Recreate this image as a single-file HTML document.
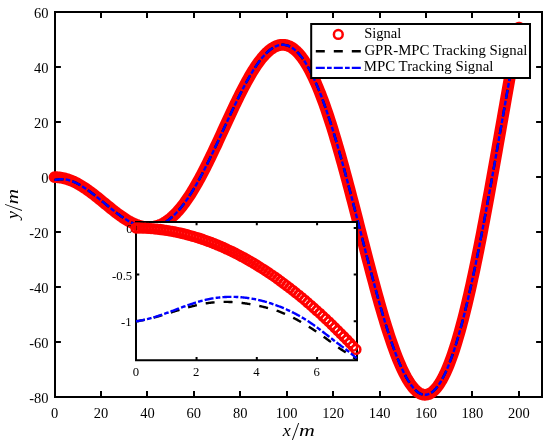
<!DOCTYPE html>
<html><head><meta charset="utf-8"><style>html,body{margin:0;padding:0;background:#fff;overflow:hidden}svg{display:block}</style></head>
<body><svg width="550" height="447" viewBox="0 0 550 447"><rect width="550" height="447" fill="#fff"/>
<path d="M55.00,12.00H542.00V397.00H55.00Z M101.00,397.00V391.10M101.00,12.00V17.90M147.00,397.00V391.10M147.00,12.00V17.90M194.00,397.00V391.10M194.00,12.00V17.90M240.00,397.00V391.10M240.00,12.00V17.90M287.00,397.00V391.10M287.00,12.00V17.90M333.00,397.00V391.10M333.00,12.00V17.90M380.00,397.00V391.10M380.00,12.00V17.90M426.00,397.00V391.10M426.00,12.00V17.90M472.00,397.00V391.10M472.00,12.00V17.90M519.00,397.00V391.10M519.00,12.00V17.90M55.00,342.00H60.90M542.00,342.00H536.10M55.00,287.00H60.90M542.00,287.00H536.10M55.00,232.00H60.90M542.00,232.00H536.10M55.00,177.00H60.90M542.00,177.00H536.10M55.00,122.00H60.90M542.00,122.00H536.10M55.00,67.00H60.90M542.00,67.00H536.10" fill="none" stroke="#000" stroke-width="2.0"/>
<g font-family="Liberation Serif, serif" font-size="15.5" fill="#000"><text transform="translate(54.50,417.75) scale(0.935,1)" text-anchor="middle">0</text><text transform="translate(100.94,417.75) scale(0.935,1)" text-anchor="middle">20</text><text transform="translate(147.38,417.75) scale(0.935,1)" text-anchor="middle">40</text><text transform="translate(193.82,417.75) scale(0.935,1)" text-anchor="middle">60</text><text transform="translate(240.26,417.75) scale(0.935,1)" text-anchor="middle">80</text><text transform="translate(286.70,417.75) scale(0.935,1)" text-anchor="middle">100</text><text transform="translate(333.14,417.75) scale(0.935,1)" text-anchor="middle">120</text><text transform="translate(379.58,417.75) scale(0.935,1)" text-anchor="middle">140</text><text transform="translate(426.02,417.75) scale(0.935,1)" text-anchor="middle">160</text><text transform="translate(472.46,417.75) scale(0.935,1)" text-anchor="middle">180</text><text transform="translate(518.90,417.75) scale(0.935,1)" text-anchor="middle">200</text><text transform="translate(48.6,403.06) scale(0.935,1)" text-anchor="end">-80</text><text transform="translate(48.6,348.08) scale(0.935,1)" text-anchor="end">-60</text><text transform="translate(48.6,293.10) scale(0.935,1)" text-anchor="end">-40</text><text transform="translate(48.6,238.12) scale(0.935,1)" text-anchor="end">-20</text><text transform="translate(48.6,183.14) scale(0.935,1)" text-anchor="end">0</text><text transform="translate(48.6,128.16) scale(0.935,1)" text-anchor="end">20</text><text transform="translate(48.6,73.18) scale(0.935,1)" text-anchor="end">40</text><text transform="translate(48.6,18.20) scale(0.935,1)" text-anchor="end">60</text></g>
<g font-family="Liberation Serif, serif" font-style="italic" font-size="18"><text transform="translate(282.8,435.6) scale(1,0.88)">x</text><text transform="translate(292.8,439.5) scale(1,1.4)">/</text><text transform="translate(299,435.6) scale(1.22,0.88)">m</text></g>
<g font-family="Liberation Serif, serif" font-style="italic" font-size="18" transform="translate(17.9,219.9) rotate(-90)"><text transform="translate(1,0) scale(1,0.88)">y</text><text transform="translate(9.6,3.8) scale(1,1.4)">/</text><text transform="translate(15.6,0) scale(1.18,0.88)">m</text></g>
<path d="M54.50,177.14 L55.66,177.16 L56.82,177.21 L57.98,177.29 L59.14,177.41 L60.30,177.57 L61.47,177.76 L62.63,177.98 L63.79,178.23 L64.95,178.52 L66.11,178.84 L67.27,179.19 L68.43,179.58 L69.59,179.99 L70.75,180.44 L71.91,180.92 L73.08,181.42 L74.24,181.96 L75.40,182.52 L76.56,183.11 L77.72,183.73 L78.88,184.37 L80.04,185.04 L81.20,185.74 L82.36,186.45 L83.53,187.19 L84.69,187.95 L85.85,188.74 L87.01,189.54 L88.17,190.36 L89.33,191.19 L90.49,192.05 L91.65,192.92 L92.81,193.80 L93.97,194.69 L95.13,195.60 L96.30,196.52 L97.46,197.45 L98.62,198.38 L99.78,199.32 L100.94,200.27 L102.10,201.22 L103.26,202.18 L104.42,203.13 L105.58,204.09 L106.75,205.04 L107.91,206.00 L109.07,206.94 L110.23,207.89 L111.39,208.82 L112.55,209.75 L113.71,210.67 L114.87,211.57 L116.03,212.47 L117.19,213.35 L118.36,214.22 L119.52,215.07 L120.68,215.90 L121.84,216.71 L123.00,217.50 L124.16,218.27 L125.32,219.02 L126.48,219.74 L127.64,220.44 L128.80,221.11 L129.97,221.75 L131.13,222.36 L132.29,222.94 L133.45,223.48 L134.61,224.00 L135.77,224.48 L136.93,224.92 L138.09,225.33 L139.25,225.70 L140.41,226.03 L141.57,226.32 L142.74,226.57 L143.90,226.77 L145.06,226.94 L146.22,227.06 L147.38,227.13 L148.54,227.16 L149.70,227.15 L150.86,227.08 L152.02,226.97 L153.19,226.81 L154.35,226.60 L155.51,226.35 L156.67,226.04 L157.83,225.68 L158.99,225.27 L160.15,224.80 L161.31,224.29 L162.47,223.72 L163.63,223.10 L164.80,222.43 L165.96,221.70 L167.12,220.93 L168.28,220.09 L169.44,219.21 L170.60,218.27 L171.76,217.28 L172.92,216.23 L174.08,215.14 L175.24,213.98 L176.41,212.78 L177.57,211.53 L178.73,210.22 L179.89,208.86 L181.05,207.45 L182.21,205.99 L183.37,204.48 L184.53,202.92 L185.69,201.32 L186.85,199.66 L188.02,197.96 L189.18,196.21 L190.34,194.42 L191.50,192.58 L192.66,190.70 L193.82,188.78 L194.98,186.81 L196.14,184.81 L197.30,182.77 L198.46,180.68 L199.62,178.57 L200.79,176.41 L201.95,174.22 L203.11,172.00 L204.27,169.75 L205.43,167.47 L206.59,165.16 L207.75,162.83 L208.91,160.47 L210.07,158.09 L211.24,155.68 L212.40,153.26 L213.56,150.81 L214.72,148.35 L215.88,145.88 L217.04,143.39 L218.20,140.89 L219.36,138.38 L220.52,135.87 L221.68,133.35 L222.84,130.82 L224.01,128.30 L225.17,125.77 L226.33,123.25 L227.49,120.73 L228.65,118.22 L229.81,115.72 L230.97,113.22 L232.13,110.74 L233.29,108.28 L234.46,105.83 L235.62,103.40 L236.78,101.00 L237.94,98.61 L239.10,96.25 L240.26,93.92 L241.42,91.62 L242.58,89.35 L243.74,87.11 L244.90,84.91 L246.06,82.75 L247.23,80.63 L248.39,78.55 L249.55,76.51 L250.71,74.52 L251.87,72.58 L253.03,70.68 L254.19,68.84 L255.35,67.06 L256.51,65.33 L257.68,63.65 L258.84,62.04 L260.00,60.49 L261.16,59.00 L262.32,57.57 L263.48,56.21 L264.64,54.93 L265.80,53.71 L266.96,52.56 L268.12,51.48 L269.28,50.48 L270.45,49.56 L271.61,48.71 L272.77,47.95 L273.93,47.26 L275.09,46.65 L276.25,46.13 L277.41,45.69 L278.57,45.34 L279.73,45.07 L280.89,44.89 L282.06,44.80 L283.22,44.80 L284.38,44.89 L285.54,45.07 L286.70,45.34 L287.86,45.70 L289.02,46.15 L290.18,46.70 L291.34,47.34 L292.50,48.08 L293.67,48.91 L294.83,49.83 L295.99,50.85 L297.15,51.97 L298.31,53.18 L299.47,54.48 L300.63,55.88 L301.79,57.38 L302.95,58.97 L304.12,60.65 L305.28,62.43 L306.44,64.30 L307.60,66.26 L308.76,68.32 L309.92,70.47 L311.08,72.71 L312.24,75.03 L313.40,77.45 L314.56,79.96 L315.73,82.55 L316.89,85.24 L318.05,88.00 L319.21,90.85 L320.37,93.78 L321.53,96.80 L322.69,99.89 L323.85,103.06 L325.01,106.31 L326.17,109.64 L327.33,113.03 L328.50,116.50 L329.66,120.04 L330.82,123.65 L331.98,127.32 L333.14,131.05 L334.30,134.85 L335.46,138.71 L336.62,142.62 L337.78,146.59 L338.94,150.62 L340.11,154.69 L341.27,158.81 L342.43,162.98 L343.59,167.19 L344.75,171.44 L345.91,175.73 L347.07,180.05 L348.23,184.41 L349.39,188.79 L350.56,193.21 L351.72,197.65 L352.88,202.10 L354.04,206.58 L355.20,211.07 L356.36,215.58 L357.52,220.09 L358.68,224.61 L359.84,229.14 L361.00,233.66 L362.17,238.19 L363.33,242.70 L364.49,247.21 L365.65,251.71 L366.81,256.19 L367.97,260.65 L369.13,265.09 L370.29,269.51 L371.45,273.89 L372.61,278.25 L373.78,282.57 L374.94,286.86 L376.10,291.10 L377.26,295.31 L378.42,299.46 L379.58,303.56 L380.74,307.62 L381.90,311.61 L383.06,315.55 L384.22,319.42 L385.38,323.23 L386.55,326.97 L387.71,330.64 L388.87,334.23 L390.03,337.75 L391.19,341.18 L392.35,344.54 L393.51,347.80 L394.67,350.98 L395.83,354.07 L397.00,357.06 L398.16,359.96 L399.32,362.76 L400.48,365.45 L401.64,368.05 L402.80,370.53 L403.96,372.91 L405.12,375.17 L406.28,377.33 L407.44,379.36 L408.61,381.28 L409.77,383.08 L410.93,384.76 L412.09,386.31 L413.25,387.74 L414.41,389.04 L415.57,390.21 L416.73,391.25 L417.89,392.16 L419.05,392.93 L420.22,393.58 L421.38,394.08 L422.54,394.45 L423.70,394.68 L424.86,394.77 L426.02,394.72 L427.18,394.53 L428.34,394.20 L429.50,393.72 L430.66,393.10 L431.82,392.34 L432.99,391.44 L434.15,390.39 L435.31,389.20 L436.47,387.86 L437.63,386.38 L438.79,384.75 L439.95,382.99 L441.11,381.07 L442.27,379.02 L443.44,376.82 L444.60,374.48 L445.76,372.00 L446.92,369.38 L448.08,366.62 L449.24,363.72 L450.40,360.68 L451.56,357.51 L452.72,354.20 L453.88,350.76 L455.05,347.19 L456.21,343.49 L457.37,339.66 L458.53,335.70 L459.69,331.62 L460.85,327.41 L462.01,323.08 L463.17,318.64 L464.33,314.08 L465.49,309.40 L466.66,304.62 L467.82,299.72 L468.98,294.72 L470.14,289.61 L471.30,284.41 L472.46,279.10 L473.62,273.70 L474.78,268.21 L475.94,262.63 L477.10,256.97 L478.26,251.22 L479.43,245.39 L480.59,239.49 L481.75,233.51 L482.91,227.47 L484.07,221.36 L485.23,215.19 L486.39,208.96 L487.55,202.68 L488.71,196.34 L489.88,189.96 L491.04,183.54 L492.20,177.08 L493.36,170.59 L494.52,164.06 L495.68,157.51 L496.84,150.94 L498.00,144.35 L499.16,137.75 L500.32,131.13 L501.49,124.52 L502.65,117.90 L503.81,111.28 L504.97,104.67 L506.13,98.08 L507.29,91.50 L508.45,84.94 L509.61,78.41 L510.77,71.91 L511.93,65.44 L513.10,59.01 L514.26,52.62 L515.42,46.28 L516.58,39.99 L517.74,33.76 L518.90,27.59" fill="none" stroke="#f00" stroke-width="11.8" stroke-linecap="round" stroke-linejoin="round"/>
<path d="M54.50,179.89 L54.73,179.88 L54.96,179.86 L55.20,179.85 L55.43,179.83 L55.66,179.80 L55.89,179.78 L56.13,179.76 L56.36,179.73 L56.59,179.70 L56.82,179.68 L57.05,179.65 L57.29,179.62 L57.52,179.59 L57.75,179.57 L57.98,179.54 L58.22,179.51 L58.45,179.49 L58.68,179.46 L58.91,179.44 L59.14,179.42 L59.38,179.40 L59.61,179.38 L59.84,179.37 L60.07,179.35 L60.30,179.34 L60.54,179.33 L60.77,179.33 L61.00,179.32 L61.23,179.32 L61.47,179.32 L61.70,179.32 L61.93,179.33 L62.16,179.33 L62.39,179.34 L62.63,179.35 L62.86,179.36 L63.09,179.37 L63.32,179.39 L63.56,179.40 L63.79,179.42 L64.02,179.44 L64.25,179.46 L64.48,179.48 L64.72,179.51 L64.95,179.53 L65.18,179.56 L65.41,179.59 L65.65,179.62 L65.88,179.66 L66.11,179.69 L66.34,179.73 L66.57,179.78 L66.81,179.82 L67.04,179.87 L67.27,179.92 L67.50,179.98 L67.74,180.03 L67.97,180.09 L68.20,180.15 L68.43,180.21 L68.66,180.27 L68.90,180.33 L69.13,180.39 L69.36,180.46 L69.59,180.52 L69.83,180.59 L70.06,180.65 L70.29,180.72 L70.52,180.77 L70.75,180.83 L70.99,180.89 L71.22,180.95 L71.45,181.01 L71.68,181.08 L71.91,181.15 L72.15,181.23 L72.38,181.31 L72.61,181.39 L72.84,181.48 L73.08,181.57 L73.31,181.66 L73.54,181.75 L73.77,181.85 L74.00,181.95 L74.24,182.05 L74.47,182.15 L74.70,182.25 L74.93,182.36 L75.17,182.46 L75.40,182.57 L75.63,182.68 L75.86,182.80 L76.09,182.91 L76.33,183.03 L76.56,183.14 L76.79,183.26 L77.02,183.38 L77.26,183.50 L77.49,183.63 L77.72,183.75 L78.88,184.39 L80.04,185.05 L81.20,185.74 L82.36,186.46 L83.53,187.19 L84.69,187.95 L85.85,188.74 L87.01,189.54 L88.17,190.36 L89.33,191.19 L90.49,192.05 L91.65,192.92 L92.81,193.80 L93.97,194.69 L95.13,195.60 L96.30,196.52 L97.46,197.45 L98.62,198.38 L99.78,199.32 L100.94,200.27 L102.10,201.22 L103.26,202.18 L104.42,203.13 L105.58,204.09 L106.75,205.04 L107.91,206.00 L109.07,206.94 L110.23,207.89 L111.39,208.82 L112.55,209.75 L113.71,210.67 L114.87,211.57 L116.03,212.47 L117.19,213.35 L118.36,214.22 L119.52,215.07 L120.68,215.90 L121.84,216.71 L123.00,217.50 L124.16,218.27 L125.32,219.02 L126.48,219.74 L127.64,220.44 L128.80,221.11 L129.97,221.75 L131.13,222.36 L132.29,222.94 L133.45,223.48 L134.61,224.00 L135.77,224.48 L136.93,224.92 L138.09,225.33 L139.25,225.70 L140.41,226.03 L141.57,226.32 L142.74,226.57 L143.90,226.77 L145.06,226.94 L146.22,227.06 L147.38,227.13 L148.54,227.16 L149.70,227.15 L150.86,227.08 L152.02,226.97 L153.19,226.81 L154.35,226.60 L155.51,226.35 L156.67,226.04 L157.83,225.68 L158.99,225.27 L160.15,224.80 L161.31,224.29 L162.47,223.72 L163.63,223.10 L164.80,222.43 L165.96,221.70 L167.12,220.93 L168.28,220.09 L169.44,219.21 L170.60,218.27 L171.76,217.28 L172.92,216.23 L174.08,215.14 L175.24,213.98 L176.41,212.78 L177.57,211.53 L178.73,210.22 L179.89,208.86 L181.05,207.45 L182.21,205.99 L183.37,204.48 L184.53,202.92 L185.69,201.32 L186.85,199.66 L188.02,197.96 L189.18,196.21 L190.34,194.42 L191.50,192.58 L192.66,190.70 L193.82,188.78 L194.98,186.81 L196.14,184.81 L197.30,182.77 L198.46,180.68 L199.62,178.57 L200.79,176.41 L201.95,174.22 L203.11,172.00 L204.27,169.75 L205.43,167.47 L206.59,165.16 L207.75,162.83 L208.91,160.47 L210.07,158.09 L211.24,155.68 L212.40,153.26 L213.56,150.81 L214.72,148.35 L215.88,145.88 L217.04,143.39 L218.20,140.89 L219.36,138.38 L220.52,135.87 L221.68,133.35 L222.84,130.82 L224.01,128.30 L225.17,125.77 L226.33,123.25 L227.49,120.73 L228.65,118.22 L229.81,115.72 L230.97,113.22 L232.13,110.74 L233.29,108.28 L234.46,105.83 L235.62,103.40 L236.78,101.00 L237.94,98.61 L239.10,96.25 L240.26,93.92 L241.42,91.62 L242.58,89.35 L243.74,87.11 L244.90,84.91 L246.06,82.75 L247.23,80.63 L248.39,78.55 L249.55,76.51 L250.71,74.52 L251.87,72.58 L253.03,70.68 L254.19,68.84 L255.35,67.06 L256.51,65.33 L257.68,63.65 L258.84,62.04 L260.00,60.49 L261.16,59.00 L262.32,57.57 L263.48,56.21 L264.64,54.93 L265.80,53.71 L266.96,52.56 L268.12,51.48 L269.28,50.48 L270.45,49.56 L271.61,48.71 L272.77,47.95 L273.93,47.26 L275.09,46.65 L276.25,46.13 L277.41,45.69 L278.57,45.34 L279.73,45.07 L280.89,44.89 L282.06,44.80 L283.22,44.80 L284.38,44.89 L285.54,45.07 L286.70,45.34 L287.86,45.70 L289.02,46.15 L290.18,46.70 L291.34,47.34 L292.50,48.08 L293.67,48.91 L294.83,49.83 L295.99,50.85 L297.15,51.97 L298.31,53.18 L299.47,54.48 L300.63,55.88 L301.79,57.38 L302.95,58.97 L304.12,60.65 L305.28,62.43 L306.44,64.30 L307.60,66.26 L308.76,68.32 L309.92,70.47 L311.08,72.71 L312.24,75.03 L313.40,77.45 L314.56,79.96 L315.73,82.55 L316.89,85.24 L318.05,88.00 L319.21,90.85 L320.37,93.78 L321.53,96.80 L322.69,99.89 L323.85,103.06 L325.01,106.31 L326.17,109.64 L327.33,113.03 L328.50,116.50 L329.66,120.04 L330.82,123.65 L331.98,127.32 L333.14,131.05 L334.30,134.85 L335.46,138.71 L336.62,142.62 L337.78,146.59 L338.94,150.62 L340.11,154.69 L341.27,158.81 L342.43,162.98 L343.59,167.19 L344.75,171.44 L345.91,175.73 L347.07,180.05 L348.23,184.41 L349.39,188.79 L350.56,193.21 L351.72,197.65 L352.88,202.10 L354.04,206.58 L355.20,211.07 L356.36,215.58 L357.52,220.09 L358.68,224.61 L359.84,229.14 L361.00,233.66 L362.17,238.19 L363.33,242.70 L364.49,247.21 L365.65,251.71 L366.81,256.19 L367.97,260.65 L369.13,265.09 L370.29,269.51 L371.45,273.89 L372.61,278.25 L373.78,282.57 L374.94,286.86 L376.10,291.10 L377.26,295.31 L378.42,299.46 L379.58,303.56 L380.74,307.62 L381.90,311.61 L383.06,315.55 L384.22,319.42 L385.38,323.23 L386.55,326.97 L387.71,330.64 L388.87,334.23 L390.03,337.75 L391.19,341.18 L392.35,344.54 L393.51,347.80 L394.67,350.98 L395.83,354.07 L397.00,357.06 L398.16,359.96 L399.32,362.76 L400.48,365.45 L401.64,368.05 L402.80,370.53 L403.96,372.91 L405.12,375.17 L406.28,377.33 L407.44,379.36 L408.61,381.28 L409.77,383.08 L410.93,384.76 L412.09,386.31 L413.25,387.74 L414.41,389.04 L415.57,390.21 L416.73,391.25 L417.89,392.16 L419.05,392.93 L420.22,393.58 L421.38,394.08 L422.54,394.45 L423.70,394.68 L424.86,394.77 L426.02,394.72 L427.18,394.53 L428.34,394.20 L429.50,393.72 L430.66,393.10 L431.82,392.34 L432.99,391.44 L434.15,390.39 L435.31,389.20 L436.47,387.86 L437.63,386.38 L438.79,384.75 L439.95,382.99 L441.11,381.07 L442.27,379.02 L443.44,376.82 L444.60,374.48 L445.76,372.00 L446.92,369.38 L448.08,366.62 L449.24,363.72 L450.40,360.68 L451.56,357.51 L452.72,354.20 L453.88,350.76 L455.05,347.19 L456.21,343.49 L457.37,339.66 L458.53,335.70 L459.69,331.62 L460.85,327.41 L462.01,323.08 L463.17,318.64 L464.33,314.08 L465.49,309.40 L466.66,304.62 L467.82,299.72 L468.98,294.72 L470.14,289.61 L471.30,284.41 L472.46,279.10 L473.62,273.70 L474.78,268.21 L475.94,262.63 L477.10,256.97 L478.26,251.22 L479.43,245.39 L480.59,239.49 L481.75,233.51 L482.91,227.47 L484.07,221.36 L485.23,215.19 L486.39,208.96 L487.55,202.68 L488.71,196.34 L489.88,189.96 L491.04,183.54 L492.20,177.08 L493.36,170.59 L494.52,164.06 L495.68,157.51 L496.84,150.94 L498.00,144.35 L499.16,137.75 L500.32,131.13 L501.49,124.52 L502.65,117.90 L503.81,111.28 L504.97,104.67 L506.13,98.08 L507.29,91.50 L508.45,84.94 L509.61,78.41 L510.77,71.91 L511.93,65.44 L513.10,59.01 L514.26,52.62 L515.42,46.28 L516.58,39.99 L517.74,33.76 L518.90,27.59" fill="none" stroke="#000" stroke-width="2.4" stroke-dasharray="9 9"/>
<path d="M54.50,179.89 L54.73,179.88 L54.96,179.86 L55.20,179.84 L55.43,179.82 L55.66,179.80 L55.89,179.77 L56.13,179.74 L56.36,179.71 L56.59,179.68 L56.82,179.65 L57.05,179.62 L57.29,179.59 L57.52,179.55 L57.75,179.52 L57.98,179.49 L58.22,179.46 L58.45,179.42 L58.68,179.39 L58.91,179.36 L59.14,179.33 L59.38,179.31 L59.61,179.28 L59.84,179.26 L60.07,179.24 L60.30,179.22 L60.54,179.21 L60.77,179.20 L61.00,179.19 L61.23,179.18 L61.47,179.17 L61.70,179.17 L61.93,179.17 L62.16,179.17 L62.39,179.18 L62.63,179.18 L62.86,179.19 L63.09,179.20 L63.32,179.22 L63.56,179.23 L63.79,179.25 L64.02,179.27 L64.25,179.29 L64.48,179.32 L64.72,179.34 L64.95,179.37 L65.18,179.40 L65.41,179.43 L65.65,179.47 L65.88,179.51 L66.11,179.54 L66.34,179.59 L66.57,179.63 L66.81,179.67 L67.04,179.72 L67.27,179.77 L67.50,179.83 L67.74,179.88 L67.97,179.94 L68.20,180.00 L68.43,180.07 L68.66,180.13 L68.90,180.20 L69.13,180.27 L69.36,180.34 L69.59,180.41 L69.83,180.48 L70.06,180.54 L70.29,180.61 L70.52,180.68 L70.75,180.75 L70.99,180.81 L71.22,180.89 L71.45,180.97 L71.68,181.04 L71.91,181.12 L72.15,181.20 L72.38,181.28 L72.61,181.37 L72.84,181.45 L73.08,181.55 L73.31,181.64 L73.54,181.73 L73.77,181.83 L74.00,181.93 L74.24,182.03 L74.47,182.14 L74.70,182.24 L74.93,182.35 L75.17,182.46 L75.40,182.57 L75.63,182.68 L75.86,182.79 L76.09,182.91 L76.33,183.02 L76.56,183.14 L76.79,183.26 L77.02,183.38 L77.26,183.50 L77.49,183.62 L77.72,183.75 L78.88,184.38 L80.04,185.05 L81.20,185.74 L82.36,186.46 L83.53,187.19 L84.69,187.95 L85.85,188.74 L87.01,189.54 L88.17,190.36 L89.33,191.19 L90.49,192.05 L91.65,192.92 L92.81,193.80 L93.97,194.69 L95.13,195.60 L96.30,196.52 L97.46,197.45 L98.62,198.38 L99.78,199.32 L100.94,200.27 L102.10,201.22 L103.26,202.18 L104.42,203.13 L105.58,204.09 L106.75,205.04 L107.91,206.00 L109.07,206.94 L110.23,207.89 L111.39,208.82 L112.55,209.75 L113.71,210.67 L114.87,211.57 L116.03,212.47 L117.19,213.35 L118.36,214.22 L119.52,215.07 L120.68,215.90 L121.84,216.71 L123.00,217.50 L124.16,218.27 L125.32,219.02 L126.48,219.74 L127.64,220.44 L128.80,221.11 L129.97,221.75 L131.13,222.36 L132.29,222.94 L133.45,223.48 L134.61,224.00 L135.77,224.48 L136.93,224.92 L138.09,225.33 L139.25,225.70 L140.41,226.03 L141.57,226.32 L142.74,226.57 L143.90,226.77 L145.06,226.94 L146.22,227.06 L147.38,227.13 L148.54,227.16 L149.70,227.15 L150.86,227.08 L152.02,226.97 L153.19,226.81 L154.35,226.60 L155.51,226.35 L156.67,226.04 L157.83,225.68 L158.99,225.27 L160.15,224.80 L161.31,224.29 L162.47,223.72 L163.63,223.10 L164.80,222.43 L165.96,221.70 L167.12,220.93 L168.28,220.09 L169.44,219.21 L170.60,218.27 L171.76,217.28 L172.92,216.23 L174.08,215.14 L175.24,213.98 L176.41,212.78 L177.57,211.53 L178.73,210.22 L179.89,208.86 L181.05,207.45 L182.21,205.99 L183.37,204.48 L184.53,202.92 L185.69,201.32 L186.85,199.66 L188.02,197.96 L189.18,196.21 L190.34,194.42 L191.50,192.58 L192.66,190.70 L193.82,188.78 L194.98,186.81 L196.14,184.81 L197.30,182.77 L198.46,180.68 L199.62,178.57 L200.79,176.41 L201.95,174.22 L203.11,172.00 L204.27,169.75 L205.43,167.47 L206.59,165.16 L207.75,162.83 L208.91,160.47 L210.07,158.09 L211.24,155.68 L212.40,153.26 L213.56,150.81 L214.72,148.35 L215.88,145.88 L217.04,143.39 L218.20,140.89 L219.36,138.38 L220.52,135.87 L221.68,133.35 L222.84,130.82 L224.01,128.30 L225.17,125.77 L226.33,123.25 L227.49,120.73 L228.65,118.22 L229.81,115.72 L230.97,113.22 L232.13,110.74 L233.29,108.28 L234.46,105.83 L235.62,103.40 L236.78,101.00 L237.94,98.61 L239.10,96.25 L240.26,93.92 L241.42,91.62 L242.58,89.35 L243.74,87.11 L244.90,84.91 L246.06,82.75 L247.23,80.63 L248.39,78.55 L249.55,76.51 L250.71,74.52 L251.87,72.58 L253.03,70.68 L254.19,68.84 L255.35,67.06 L256.51,65.33 L257.68,63.65 L258.84,62.04 L260.00,60.49 L261.16,59.00 L262.32,57.57 L263.48,56.21 L264.64,54.93 L265.80,53.71 L266.96,52.56 L268.12,51.48 L269.28,50.48 L270.45,49.56 L271.61,48.71 L272.77,47.95 L273.93,47.26 L275.09,46.65 L276.25,46.13 L277.41,45.69 L278.57,45.34 L279.73,45.07 L280.89,44.89 L282.06,44.80 L283.22,44.80 L284.38,44.89 L285.54,45.07 L286.70,45.34 L287.86,45.70 L289.02,46.15 L290.18,46.70 L291.34,47.34 L292.50,48.08 L293.67,48.91 L294.83,49.83 L295.99,50.85 L297.15,51.97 L298.31,53.18 L299.47,54.48 L300.63,55.88 L301.79,57.38 L302.95,58.97 L304.12,60.65 L305.28,62.43 L306.44,64.30 L307.60,66.26 L308.76,68.32 L309.92,70.47 L311.08,72.71 L312.24,75.03 L313.40,77.45 L314.56,79.96 L315.73,82.55 L316.89,85.24 L318.05,88.00 L319.21,90.85 L320.37,93.78 L321.53,96.80 L322.69,99.89 L323.85,103.06 L325.01,106.31 L326.17,109.64 L327.33,113.03 L328.50,116.50 L329.66,120.04 L330.82,123.65 L331.98,127.32 L333.14,131.05 L334.30,134.85 L335.46,138.71 L336.62,142.62 L337.78,146.59 L338.94,150.62 L340.11,154.69 L341.27,158.81 L342.43,162.98 L343.59,167.19 L344.75,171.44 L345.91,175.73 L347.07,180.05 L348.23,184.41 L349.39,188.79 L350.56,193.21 L351.72,197.65 L352.88,202.10 L354.04,206.58 L355.20,211.07 L356.36,215.58 L357.52,220.09 L358.68,224.61 L359.84,229.14 L361.00,233.66 L362.17,238.19 L363.33,242.70 L364.49,247.21 L365.65,251.71 L366.81,256.19 L367.97,260.65 L369.13,265.09 L370.29,269.51 L371.45,273.89 L372.61,278.25 L373.78,282.57 L374.94,286.86 L376.10,291.10 L377.26,295.31 L378.42,299.46 L379.58,303.56 L380.74,307.62 L381.90,311.61 L383.06,315.55 L384.22,319.42 L385.38,323.23 L386.55,326.97 L387.71,330.64 L388.87,334.23 L390.03,337.75 L391.19,341.18 L392.35,344.54 L393.51,347.80 L394.67,350.98 L395.83,354.07 L397.00,357.06 L398.16,359.96 L399.32,362.76 L400.48,365.45 L401.64,368.05 L402.80,370.53 L403.96,372.91 L405.12,375.17 L406.28,377.33 L407.44,379.36 L408.61,381.28 L409.77,383.08 L410.93,384.76 L412.09,386.31 L413.25,387.74 L414.41,389.04 L415.57,390.21 L416.73,391.25 L417.89,392.16 L419.05,392.93 L420.22,393.58 L421.38,394.08 L422.54,394.45 L423.70,394.68 L424.86,394.77 L426.02,394.72 L427.18,394.53 L428.34,394.20 L429.50,393.72 L430.66,393.10 L431.82,392.34 L432.99,391.44 L434.15,390.39 L435.31,389.20 L436.47,387.86 L437.63,386.38 L438.79,384.75 L439.95,382.99 L441.11,381.07 L442.27,379.02 L443.44,376.82 L444.60,374.48 L445.76,372.00 L446.92,369.38 L448.08,366.62 L449.24,363.72 L450.40,360.68 L451.56,357.51 L452.72,354.20 L453.88,350.76 L455.05,347.19 L456.21,343.49 L457.37,339.66 L458.53,335.70 L459.69,331.62 L460.85,327.41 L462.01,323.08 L463.17,318.64 L464.33,314.08 L465.49,309.40 L466.66,304.62 L467.82,299.72 L468.98,294.72 L470.14,289.61 L471.30,284.41 L472.46,279.10 L473.62,273.70 L474.78,268.21 L475.94,262.63 L477.10,256.97 L478.26,251.22 L479.43,245.39 L480.59,239.49 L481.75,233.51 L482.91,227.47 L484.07,221.36 L485.23,215.19 L486.39,208.96 L487.55,202.68 L488.71,196.34 L489.88,189.96 L491.04,183.54 L492.20,177.08 L493.36,170.59 L494.52,164.06 L495.68,157.51 L496.84,150.94 L498.00,144.35 L499.16,137.75 L500.32,131.13 L501.49,124.52 L502.65,117.90 L503.81,111.28 L504.97,104.67 L506.13,98.08 L507.29,91.50 L508.45,84.94 L509.61,78.41 L510.77,71.91 L511.93,65.44 L513.10,59.01 L514.26,52.62 L515.42,46.28 L516.58,39.99 L517.74,33.76 L518.90,27.59" fill="none" stroke="#00f" stroke-width="2.4" stroke-dasharray="9 2.2 4.7 2.1"/>
<rect x="136.0" y="222.0" width="221.00" height="138.30" fill="#fff"/>
<path d="M136.00,222.00H357.00V360.30H136.00Z M196.56,360.30V357.00M196.56,222.00V225.30M256.82,360.30V357.00M256.82,222.00V225.30M317.08,360.30V357.00M317.08,222.00V225.30M136.00,321.20H139.30M357.00,321.20H353.70M136.00,274.60H139.30M357.00,274.60H353.70M136.00,228.00H139.30M357.00,228.00H353.70" fill="none" stroke="#000" stroke-width="2.0"/>
<g font-family="Liberation Serif, serif" font-size="13.4" fill="#000"><text transform="translate(136.00,376.1) scale(0.95,1)" text-anchor="middle">0</text><text transform="translate(196.26,376.1) scale(0.95,1)" text-anchor="middle">2</text><text transform="translate(256.52,376.1) scale(0.95,1)" text-anchor="middle">4</text><text transform="translate(316.78,376.1) scale(0.95,1)" text-anchor="middle">6</text><text transform="translate(132.60,233.00) scale(0.95,1)" text-anchor="end">0</text><text transform="translate(132.20,279.60) scale(0.95,1)" text-anchor="end">-0.5</text><text transform="translate(131.60,326.20) scale(0.95,1)" text-anchor="end">-1</text></g>
<g fill="none" stroke="#f00" stroke-width="2.56"><circle cx="136.00" cy="228.00" r="4.38"/><circle cx="139.01" cy="228.02" r="4.38"/><circle cx="142.03" cy="228.09" r="4.38"/><circle cx="145.04" cy="228.21" r="4.38"/><circle cx="148.05" cy="228.37" r="4.38"/><circle cx="151.06" cy="228.58" r="4.38"/><circle cx="154.08" cy="228.84" r="4.38"/><circle cx="157.09" cy="229.14" r="4.38"/><circle cx="160.10" cy="229.49" r="4.38"/><circle cx="163.12" cy="229.89" r="4.38"/><circle cx="166.13" cy="230.33" r="4.38"/><circle cx="169.14" cy="230.82" r="4.38"/><circle cx="172.16" cy="231.35" r="4.38"/><circle cx="175.17" cy="231.93" r="4.38"/><circle cx="178.18" cy="232.56" r="4.38"/><circle cx="181.19" cy="233.24" r="4.38"/><circle cx="184.21" cy="233.96" r="4.38"/><circle cx="187.22" cy="234.73" r="4.38"/><circle cx="190.23" cy="235.54" r="4.38"/><circle cx="193.25" cy="236.40" r="4.38"/><circle cx="196.26" cy="237.30" r="4.38"/><circle cx="199.27" cy="238.26" r="4.38"/><circle cx="202.29" cy="239.25" r="4.38"/><circle cx="205.30" cy="240.30" r="4.38"/><circle cx="208.31" cy="241.39" r="4.38"/><circle cx="211.32" cy="242.52" r="4.38"/><circle cx="214.34" cy="243.71" r="4.38"/><circle cx="217.35" cy="244.93" r="4.38"/><circle cx="220.36" cy="246.21" r="4.38"/><circle cx="223.38" cy="247.53" r="4.38"/><circle cx="226.39" cy="248.89" r="4.38"/><circle cx="229.40" cy="250.30" r="4.38"/><circle cx="232.42" cy="251.76" r="4.38"/><circle cx="235.43" cy="253.26" r="4.38"/><circle cx="238.44" cy="254.81" r="4.38"/><circle cx="241.45" cy="256.40" r="4.38"/><circle cx="244.47" cy="258.03" r="4.38"/><circle cx="247.48" cy="259.72" r="4.38"/><circle cx="250.49" cy="261.44" r="4.38"/><circle cx="253.51" cy="263.22" r="4.38"/><circle cx="256.52" cy="265.03" r="4.38"/><circle cx="259.53" cy="266.89" r="4.38"/><circle cx="262.55" cy="268.80" r="4.38"/><circle cx="265.56" cy="270.75" r="4.38"/><circle cx="268.57" cy="272.75" r="4.38"/><circle cx="271.59" cy="274.79" r="4.38"/><circle cx="274.60" cy="276.87" r="4.38"/><circle cx="277.61" cy="279.00" r="4.38"/><circle cx="280.62" cy="281.17" r="4.38"/><circle cx="283.64" cy="283.39" r="4.38"/><circle cx="286.65" cy="285.65" r="4.38"/><circle cx="289.66" cy="287.95" r="4.38"/><circle cx="292.68" cy="290.30" r="4.38"/><circle cx="295.69" cy="292.69" r="4.38"/><circle cx="298.70" cy="295.12" r="4.38"/><circle cx="301.72" cy="297.60" r="4.38"/><circle cx="304.73" cy="300.12" r="4.38"/><circle cx="307.74" cy="302.68" r="4.38"/><circle cx="310.75" cy="305.29" r="4.38"/><circle cx="313.77" cy="307.94" r="4.38"/><circle cx="316.78" cy="310.63" r="4.38"/><circle cx="319.79" cy="313.36" r="4.38"/><circle cx="322.81" cy="316.14" r="4.38"/><circle cx="325.82" cy="318.96" r="4.38"/><circle cx="328.83" cy="321.82" r="4.38"/><circle cx="331.85" cy="324.72" r="4.38"/><circle cx="334.86" cy="327.66" r="4.38"/><circle cx="337.87" cy="330.65" r="4.38"/><circle cx="340.88" cy="333.68" r="4.38"/><circle cx="343.90" cy="336.74" r="4.38"/><circle cx="346.91" cy="339.85" r="4.38"/><circle cx="349.92" cy="343.00" r="4.38"/><circle cx="352.94" cy="346.20" r="4.38"/><circle cx="355.95" cy="349.43" r="4.38"/></g>
<path d="M136.00,321.25 L136.60,321.18 L137.21,321.10 L137.81,321.01 L138.41,320.92 L139.01,320.83 L139.62,320.74 L140.22,320.64 L140.82,320.54 L141.42,320.43 L142.03,320.32 L142.63,320.21 L143.23,320.10 L143.83,319.98 L144.44,319.86 L145.04,319.73 L145.64,319.60 L146.24,319.47 L146.85,319.34 L147.45,319.20 L148.05,319.06 L148.65,318.92 L149.26,318.78 L149.86,318.63 L150.46,318.48 L151.06,318.33 L151.67,318.18 L152.27,318.02 L152.87,317.86 L153.48,317.70 L154.08,317.54 L154.68,317.38 L155.28,317.21 L155.89,317.04 L156.49,316.88 L157.09,316.70 L157.69,316.53 L158.30,316.36 L158.90,316.18 L159.50,316.01 L160.10,315.83 L160.71,315.65 L161.31,315.47 L161.91,315.29 L162.51,315.11 L163.12,314.92 L163.72,314.74 L164.32,314.55 L164.92,314.37 L165.53,314.18 L166.13,313.99 L166.73,313.81 L167.34,313.62 L167.94,313.43 L168.54,313.24 L169.14,313.05 L169.75,312.87 L170.35,312.68 L170.95,312.49 L171.55,312.30 L172.16,312.11 L172.76,311.92 L173.36,311.73 L173.96,311.55 L174.57,311.36 L175.17,311.17 L175.77,310.98 L176.37,310.80 L176.98,310.61 L177.58,310.43 L178.18,310.24 L178.78,310.06 L179.39,309.88 L179.99,309.70 L180.59,309.52 L181.19,309.34 L181.80,309.16 L182.40,308.98 L183.00,308.80 L183.61,308.63 L184.21,308.45 L184.81,308.28 L185.41,308.11 L186.02,307.94 L186.62,307.77 L187.22,307.60 L187.82,307.43 L188.43,307.27 L189.03,307.11 L189.63,306.94 L190.23,306.78 L190.84,306.63 L191.44,306.47 L192.04,306.32 L192.64,306.16 L193.25,306.01 L193.85,305.86 L194.45,305.72 L195.05,305.57 L195.66,305.43 L196.26,305.29 L196.86,305.15 L197.47,305.02 L198.07,304.88 L198.67,304.75 L199.27,304.62 L199.88,304.50 L200.48,304.37 L201.08,304.25 L201.68,304.13 L202.29,304.02 L202.89,303.90 L203.49,303.79 L204.09,303.68 L204.70,303.58 L205.30,303.48 L205.90,303.38 L206.50,303.28 L207.11,303.19 L207.71,303.10 L208.31,303.01 L208.91,302.93 L209.52,302.85 L210.12,302.77 L210.72,302.70 L211.32,302.63 L211.93,302.56 L212.53,302.50 L213.13,302.44 L213.74,302.38 L214.34,302.33 L214.94,302.28 L215.54,302.23 L216.15,302.18 L216.75,302.14 L217.35,302.10 L217.95,302.07 L218.56,302.04 L219.16,302.01 L219.76,301.98 L220.36,301.96 L220.97,301.94 L221.57,301.92 L222.17,301.90 L222.77,301.89 L223.38,301.88 L223.98,301.88 L224.58,301.88 L225.18,301.88 L225.79,301.88 L226.39,301.88 L226.99,301.89 L227.60,301.90 L228.20,301.92 L228.80,301.94 L229.40,301.96 L230.01,301.98 L230.61,302.00 L231.21,302.03 L231.81,302.06 L232.42,302.09 L233.02,302.13 L233.62,302.17 L234.22,302.21 L234.83,302.25 L235.43,302.30 L236.03,302.35 L236.63,302.40 L237.24,302.45 L237.84,302.51 L238.44,302.56 L239.04,302.62 L239.65,302.69 L240.25,302.75 L240.85,302.82 L241.45,302.89 L242.06,302.96 L242.66,303.04 L243.26,303.12 L243.87,303.20 L244.47,303.28 L245.07,303.36 L245.67,303.45 L246.28,303.54 L246.88,303.63 L247.48,303.72 L248.08,303.82 L248.69,303.91 L249.29,304.01 L249.89,304.11 L250.49,304.22 L251.10,304.32 L251.70,304.43 L252.30,304.54 L252.90,304.65 L253.51,304.77 L254.11,304.88 L254.71,305.00 L255.31,305.12 L255.92,305.24 L256.52,305.36 L257.12,305.49 L257.73,305.62 L258.33,305.74 L258.93,305.88 L259.53,306.01 L260.14,306.14 L260.74,306.28 L261.34,306.42 L261.94,306.56 L262.55,306.70 L263.15,306.84 L263.75,306.98 L264.35,307.13 L264.96,307.28 L265.56,307.43 L266.16,307.58 L266.76,307.74 L267.37,307.90 L267.97,308.06 L268.57,308.22 L269.17,308.38 L269.78,308.55 L270.38,308.72 L270.98,308.89 L271.59,309.07 L272.19,309.25 L272.79,309.43 L273.39,309.61 L274.00,309.80 L274.60,309.99 L275.20,310.18 L275.80,310.38 L276.41,310.58 L277.01,310.78 L277.61,310.99 L278.21,311.20 L278.82,311.42 L279.42,311.64 L280.02,311.86 L280.62,312.09 L281.23,312.32 L281.83,312.55 L282.43,312.79 L283.03,313.04 L283.64,313.28 L284.24,313.53 L284.84,313.79 L285.44,314.05 L286.05,314.31 L286.65,314.58 L287.25,314.85 L287.86,315.13 L288.46,315.40 L289.06,315.69 L289.66,315.97 L290.27,316.26 L290.87,316.55 L291.47,316.85 L292.07,317.15 L292.68,317.45 L293.28,317.76 L293.88,318.07 L294.48,318.38 L295.09,318.70 L295.69,319.02 L296.29,319.34 L296.89,319.67 L297.50,320.00 L298.10,320.33 L298.70,320.67 L299.30,321.00 L299.91,321.35 L300.51,321.69 L301.11,322.04 L301.72,322.39 L302.32,322.74 L302.92,323.09 L303.52,323.45 L304.13,323.81 L304.73,324.18 L305.33,324.54 L305.93,324.91 L306.54,325.28 L307.14,325.65 L307.74,326.03 L308.34,326.41 L308.95,326.79 L309.55,327.17 L310.15,327.55 L310.75,327.94 L311.36,328.33 L311.96,328.72 L312.56,329.11 L313.16,329.51 L313.77,329.91 L314.37,330.30 L314.97,330.71 L315.57,331.11 L316.18,331.51 L316.78,331.92 L317.38,332.33 L317.99,332.74 L318.59,333.16 L319.19,333.57 L319.79,333.99 L320.40,334.41 L321.00,334.83 L321.60,335.25 L322.20,335.68 L322.81,336.11 L323.41,336.54 L324.01,336.97 L324.61,337.41 L325.22,337.84 L325.82,338.28 L326.42,338.72 L327.02,339.16 L327.63,339.61 L328.23,340.05 L328.83,340.50 L329.43,340.95 L330.04,341.40 L330.64,341.85 L331.24,342.30 L331.85,342.74 L332.45,343.19 L333.05,343.64 L333.65,344.09 L334.26,344.53 L334.86,344.97 L335.46,345.41 L336.06,345.85 L336.67,346.29 L337.27,346.72 L337.87,347.15 L338.47,347.57 L339.08,347.99 L339.68,348.41 L340.28,348.82 L340.88,349.23 L341.49,349.63 L342.09,350.03 L342.69,350.42 L343.29,350.81 L343.90,351.20 L344.50,351.58 L345.10,351.97 L345.70,352.35 L346.31,352.73 L346.91,353.11 L347.51,353.49 L348.12,353.88 L348.72,354.27 L349.32,354.66 L349.92,355.05 L350.53,355.45 L351.13,355.85 L351.73,356.26 L352.33,356.67 L352.94,357.09 L353.54,357.52 L354.14,357.96 L354.74,358.40 L355.35,358.86 L355.95,359.14 L356.55,359.14" fill="none" stroke="#000" stroke-width="2.4" stroke-dasharray="9 9"/>
<path d="M136.00,321.29 L136.60,321.21 L137.21,321.12 L137.81,321.03 L138.41,320.94 L139.01,320.84 L139.62,320.74 L140.22,320.63 L140.82,320.52 L141.42,320.40 L142.03,320.29 L142.63,320.16 L143.23,320.04 L143.83,319.91 L144.44,319.78 L145.04,319.64 L145.64,319.50 L146.24,319.36 L146.85,319.21 L147.45,319.06 L148.05,318.91 L148.65,318.75 L149.26,318.59 L149.86,318.43 L150.46,318.26 L151.06,318.10 L151.67,317.93 L152.27,317.75 L152.87,317.58 L153.48,317.40 L154.08,317.22 L154.68,317.04 L155.28,316.85 L155.89,316.66 L156.49,316.47 L157.09,316.28 L157.69,316.09 L158.30,315.89 L158.90,315.69 L159.50,315.49 L160.10,315.29 L160.71,315.09 L161.31,314.88 L161.91,314.67 L162.51,314.46 L163.12,314.25 L163.72,314.04 L164.32,313.83 L164.92,313.62 L165.53,313.40 L166.13,313.19 L166.73,312.97 L167.34,312.75 L167.94,312.53 L168.54,312.31 L169.14,312.09 L169.75,311.87 L170.35,311.65 L170.95,311.42 L171.55,311.20 L172.16,310.98 L172.76,310.75 L173.36,310.53 L173.96,310.30 L174.57,310.08 L175.17,309.85 L175.77,309.63 L176.37,309.40 L176.98,309.18 L177.58,308.95 L178.18,308.73 L178.78,308.50 L179.39,308.28 L179.99,308.05 L180.59,307.83 L181.19,307.61 L181.80,307.39 L182.40,307.16 L183.00,306.94 L183.61,306.72 L184.21,306.50 L184.81,306.29 L185.41,306.07 L186.02,305.85 L186.62,305.64 L187.22,305.43 L187.82,305.21 L188.43,305.00 L189.03,304.79 L189.63,304.58 L190.23,304.38 L190.84,304.17 L191.44,303.97 L192.04,303.77 L192.64,303.57 L193.25,303.37 L193.85,303.18 L194.45,302.98 L195.05,302.79 L195.66,302.60 L196.26,302.41 L196.86,302.23 L197.47,302.05 L198.07,301.87 L198.67,301.69 L199.27,301.51 L199.88,301.34 L200.48,301.17 L201.08,301.00 L201.68,300.84 L202.29,300.68 L202.89,300.52 L203.49,300.36 L204.09,300.21 L204.70,300.06 L205.30,299.92 L205.90,299.77 L206.50,299.64 L207.11,299.50 L207.71,299.37 L208.31,299.24 L208.91,299.11 L209.52,298.99 L210.12,298.87 L210.72,298.76 L211.32,298.65 L211.93,298.54 L212.53,298.43 L213.13,298.33 L213.74,298.23 L214.34,298.14 L214.94,298.05 L215.54,297.96 L216.15,297.87 L216.75,297.79 L217.35,297.71 L217.95,297.64 L218.56,297.57 L219.16,297.50 L219.76,297.44 L220.36,297.38 L220.97,297.32 L221.57,297.26 L222.17,297.21 L222.77,297.16 L223.38,297.12 L223.98,297.08 L224.58,297.04 L225.18,297.00 L225.79,296.97 L226.39,296.94 L226.99,296.92 L227.60,296.90 L228.20,296.88 L228.80,296.86 L229.40,296.85 L230.01,296.84 L230.61,296.84 L231.21,296.83 L231.81,296.83 L232.42,296.84 L233.02,296.84 L233.62,296.85 L234.22,296.87 L234.83,296.88 L235.43,296.90 L236.03,296.93 L236.63,296.95 L237.24,296.98 L237.84,297.01 L238.44,297.05 L239.04,297.09 L239.65,297.13 L240.25,297.17 L240.85,297.22 L241.45,297.27 L242.06,297.33 L242.66,297.38 L243.26,297.44 L243.87,297.51 L244.47,297.57 L245.07,297.64 L245.67,297.72 L246.28,297.79 L246.88,297.87 L247.48,297.95 L248.08,298.04 L248.69,298.12 L249.29,298.22 L249.89,298.31 L250.49,298.41 L251.10,298.51 L251.70,298.61 L252.30,298.71 L252.90,298.82 L253.51,298.93 L254.11,299.05 L254.71,299.17 L255.31,299.29 L255.92,299.41 L256.52,299.54 L257.12,299.67 L257.73,299.80 L258.33,299.93 L258.93,300.07 L259.53,300.21 L260.14,300.36 L260.74,300.50 L261.34,300.65 L261.94,300.81 L262.55,300.96 L263.15,301.12 L263.75,301.28 L264.35,301.45 L264.96,301.61 L265.56,301.78 L266.16,301.96 L266.76,302.13 L267.37,302.31 L267.97,302.49 L268.57,302.68 L269.17,302.86 L269.78,303.05 L270.38,303.25 L270.98,303.44 L271.59,303.64 L272.19,303.84 L272.79,304.05 L273.39,304.26 L274.00,304.47 L274.60,304.68 L275.20,304.89 L275.80,305.11 L276.41,305.33 L277.01,305.56 L277.61,305.79 L278.21,306.02 L278.82,306.25 L279.42,306.49 L280.02,306.72 L280.62,306.97 L281.23,307.21 L281.83,307.46 L282.43,307.71 L283.03,307.96 L283.64,308.21 L284.24,308.47 L284.84,308.73 L285.44,309.00 L286.05,309.26 L286.65,309.53 L287.25,309.81 L287.86,310.08 L288.46,310.36 L289.06,310.64 L289.66,310.92 L290.27,311.21 L290.87,311.50 L291.47,311.79 L292.07,312.09 L292.68,312.39 L293.28,312.69 L293.88,312.99 L294.48,313.30 L295.09,313.61 L295.69,313.93 L296.29,314.25 L296.89,314.57 L297.50,314.89 L298.10,315.22 L298.70,315.55 L299.30,315.89 L299.91,316.22 L300.51,316.57 L301.11,316.91 L301.72,317.26 L302.32,317.61 L302.92,317.97 L303.52,318.33 L304.13,318.70 L304.73,319.06 L305.33,319.44 L305.93,319.81 L306.54,320.19 L307.14,320.58 L307.74,320.97 L308.34,321.36 L308.95,321.76 L309.55,322.16 L310.15,322.56 L310.75,322.97 L311.36,323.38 L311.96,323.80 L312.56,324.22 L313.16,324.64 L313.77,325.07 L314.37,325.50 L314.97,325.93 L315.57,326.37 L316.18,326.81 L316.78,327.25 L317.38,327.70 L317.99,328.14 L318.59,328.59 L319.19,329.05 L319.79,329.50 L320.40,329.95 L321.00,330.41 L321.60,330.87 L322.20,331.33 L322.81,331.79 L323.41,332.26 L324.01,332.72 L324.61,333.19 L325.22,333.65 L325.82,334.12 L326.42,334.59 L327.02,335.06 L327.63,335.53 L328.23,336.00 L328.83,336.47 L329.43,336.93 L330.04,337.40 L330.64,337.87 L331.24,338.34 L331.85,338.81 L332.45,339.28 L333.05,339.74 L333.65,340.21 L334.26,340.68 L334.86,341.14 L335.46,341.60 L336.06,342.06 L336.67,342.52 L337.27,342.98 L337.87,343.44 L338.47,343.89 L339.08,344.34 L339.68,344.79 L340.28,345.24 L340.88,345.69 L341.49,346.14 L342.09,346.59 L342.69,347.04 L343.29,347.49 L343.90,347.94 L344.50,348.39 L345.10,348.85 L345.70,349.30 L346.31,349.76 L346.91,350.22 L347.51,350.69 L348.12,351.16 L348.72,351.63 L349.32,352.10 L349.92,352.58 L350.53,353.07 L351.13,353.56 L351.73,354.06 L352.33,354.56 L352.94,355.07 L353.54,355.59 L354.14,356.11 L354.74,356.64 L355.35,357.18 L355.95,357.72 L356.55,358.28" fill="none" stroke="#00f" stroke-width="2.4" stroke-dasharray="9 2.2 4.7 2.1"/>
<rect x="311.2" y="24.0" width="218.8" height="54.0" fill="#fff" stroke="#000" stroke-width="2.0"/>
<circle cx="338.3" cy="34.4" r="4.4" fill="none" stroke="#f00" stroke-width="2.5"/>
<path d="M315.8,51.3H361" stroke="#000" stroke-width="2.4" stroke-dasharray="9 9"/>
<path d="M315.8,67.9H361" stroke="#00f" stroke-width="2.4" stroke-dasharray="9 2.2 4.7 2.1"/>
<g font-family="Liberation Serif, serif" font-size="14.5" fill="#000"><text x="364.2" y="38.3">Signal</text><text x="364.4" y="54.7" textLength="163" lengthAdjust="spacingAndGlyphs">GPR-MPC Tracking Signal</text><text x="363.8" y="71.1" textLength="129.6" lengthAdjust="spacingAndGlyphs">MPC Tracking Signal</text></g></svg></body></html>
